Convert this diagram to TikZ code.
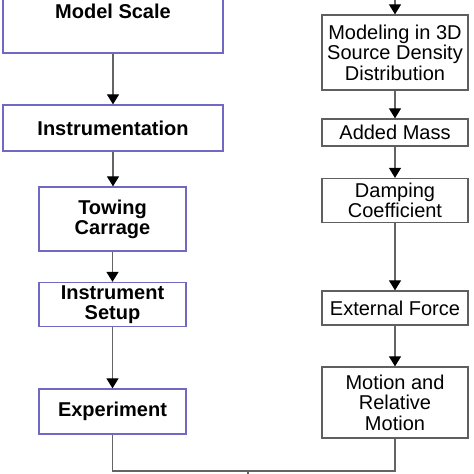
\documentclass[tikz,border=0pt]{standalone}
\usepackage{fontspec}
\setmainfont{Liberation Sans}
\usetikzlibrary{arrows.meta}

\definecolor{leftline}{RGB}{112,104,196}
\definecolor{rightline}{RGB}{95,95,95}
\definecolor{wire}{RGB}{100,100,100}

\begin{document}
\begin{tikzpicture}[x=1pt,y=-1pt]
		\tikzstyle{expbox}=[draw=leftline,line width=1.3pt,inner sep=0,align=center,
			font=\fontsize{20}{20}\selectfont\bfseries]
		\tikzstyle{numbox}=[draw=rightline,line width=1.3pt,inner sep=0,align=center,
			font=\fontsize{20}{20.5}\selectfont]
		\tikzstyle{flow}=[draw=wire,line width=1.2pt,-{Triangle[width=12pt,length=10pt,color=black]}]
		\tikzstyle{wireline}=[draw=wire,line width=1.2pt]

		\clip (0,0) rectangle (474,474);
		\useasboundingbox (0,0) rectangle (474,474);

		% experimental side
		\node[expbox,minimum width=220pt,minimum height=83pt] (scale) at (113,11.5) {Model Scale};
		\node[expbox,minimum width=220pt,minimum height=46pt] (instr) at (113,128) {Instrumentation};
		\node[expbox,minimum width=147pt,minimum height=64pt] (towing) at (112.5,219) {Towing\\Carrage};
		\node[expbox,minimum width=147pt,minimum height=44pt] (setup) at (112.5,304.5) {Instrument\\Setup};
		\node[expbox,minimum width=147pt,minimum height=45pt] (exper) at (112.5,411.5) {Experiment};

		% numerical side
		\node[numbox,minimum width=146pt,minimum height=75pt] (model) at (395,52.5) {Modeling in 3D\\Source Density\\Distribution};
		\node[numbox,minimum width=146pt,minimum height=27pt] (mass) at (395,132.5) {Added Mass};
		\node[numbox,minimum width=146pt,minimum height=44pt] (damp) at (395,200.5) {Damping\\Coefficient};
		\node[numbox,minimum width=146pt,minimum height=34pt] (force) at (395,308) {External Force};
		\node[numbox,minimum width=146pt,minimum height=71pt] (motion) at (395,402.5) {Motion and\\Relative\\Motion};

		\path[flow] (scale) -- (instr);
		\path[flow] (instr.south) -- (instr.south |- towing.north);
		\path[flow] (towing) -- (setup);
		\path[flow] (setup) -- (exper);

		\coordinate (top) at (395,-10);
		\path[flow] (top) -- (model);
		\path[flow] (model) -- (mass);
		\path[flow] (mass) -- (damp);
		\path[flow] (damp) -- (force);
		\path[flow] (force) -- (motion);

		% joining the two sides
		\coordinate (joinl) at (112.5,471);
		\coordinate (joinr) at (395,471);
		\coordinate (mid) at (248,471);
		\coordinate (out) at (248,490);
		\path[wireline] (exper.south) -- (joinl) -- (joinr) -- (motion.south);
		\path[wireline] (mid) -- (out);
	\end{tikzpicture}
\end{document}
